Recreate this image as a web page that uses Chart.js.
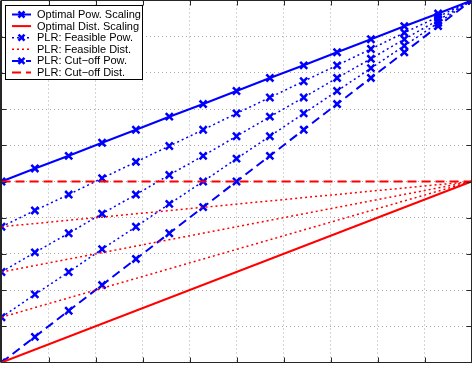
<!DOCTYPE html>
<html lang="en">
<head>
  <meta charset="UTF-8">
  <title>Power vs. distance scaling</title>
  <style>
    html, body { margin: 0; padding: 0; background: #fff; }
    #chartContainer { width: 474px; height: 366px; }
  </style>
</head>
<body>
  <div id="chartContainer">
    <canvas id="myChart" width="474" height="366"></canvas>
  </div>

  <script src="https://cdn.jsdelivr.net/npm/chart.js"></script>
  <script>
    // marker positions along the x axis (15 steps)
    var xSteps = [0, 0.71, 1.43, 2.14, 2.86, 3.57, 4.29, 5, 5.71, 6.43, 7.14, 7.86, 8.57, 9.29, 10];

    // blue series (with x markers)
    var optPow = [5, 5.36, 5.71, 6.07, 6.43, 6.79, 7.14, 7.5, 7.86, 8.21, 8.57, 8.93, 9.29, 9.64, 10];
    var cutPow = [0, 0.71, 1.43, 2.14, 2.86, 3.57, 4.29, 5, 5.71, 6.43, 7.14, 7.86, 8.57, 9.29, 10];
    var feasPowA = [3.75, 4.2, 4.64, 5.09, 5.54, 5.98, 6.43, 6.88, 7.32, 7.77, 8.21, 8.66, 9.11, 9.55, 10];
    var feasPowB = [2.5, 3.04, 3.57, 4.11, 4.64, 5.18, 5.71, 6.25, 6.79, 7.32, 7.86, 8.39, 8.93, 9.46, 10];
    var feasPowC = [1.25, 1.88, 2.5, 3.13, 3.75, 4.38, 5, 5.63, 6.25, 6.88, 7.5, 8.13, 8.75, 9.38, 10];

    // red series (straight lines, end points only)
    var xEnds = [0, 10];
    var optDist = [0, 5];
    var cutDist = [5, 5];
    var feasDistA = [3.75, 5];
    var feasDistB = [2.5, 5];
    var feasDistC = [1.25, 5];

    var legendLabels = [
      'Optimal Pow. Scaling',
      'Optimal Dist. Scaling',
      'PLR: Feasible Pow.',
      'PLR: Feasible Dist.',
      'PLR: Cut\u2212off Pow.',
      'PLR: Cut\u2212off Dist.'
    ];

    var BLUE = '#0000ff';
    var RED = '#ff0000';
    var DOT = [2, 3];
    var DASH = [9, 5];

    function pts(xs, ys) {
      var out = [];
      for (var i = 0; i < xs.length; i++) out.push({ x: xs[i], y: ys[i] });
      return out;
    }

    function blueSet(ys, dash, width) {
      return {
        data: pts(xSteps, ys),
        borderColor: BLUE,
        backgroundColor: BLUE,
        borderWidth: width,
        borderDash: dash,
        pointStyle: 'crossRot',
        pointRadius: 5,
        pointBorderWidth: 2.5,
        pointBorderColor: BLUE
      };
    }

    function redSet(ys, dash, width) {
      return {
        data: pts(xEnds, ys),
        borderColor: RED,
        borderWidth: width,
        borderDash: dash,
        pointRadius: 0
      };
    }

    // legend samples: color, dash, marker
    var legendStyles = [
      { color: BLUE, dash: [], width: 2, marker: true },
      { color: RED, dash: [], width: 2, marker: false },
      { color: BLUE, dash: DOT, width: 1.5, marker: true },
      { color: RED, dash: DOT, width: 1.5, marker: false },
      { color: BLUE, dash: DASH, width: 2, marker: true },
      { color: RED, dash: DASH, width: 2, marker: false }
    ];

    // frame, inward ticks and boxed legend, drawn after the data
    var matlabLook = {
      id: 'matlabLook',
      afterDraw: function (chart) {
        var ctx = chart.ctx;
        var a = chart.chartArea;
        var xs = chart.scales.x, ys = chart.scales.y;
        ctx.save();
        ctx.setLineDash([]);
        ctx.strokeStyle = '#262626';
        ctx.lineWidth = 1;
        ctx.strokeRect(a.left, a.top, a.right - a.left, a.bottom - a.top);
        ctx.lineWidth = 2;
        ctx.beginPath();
        ctx.moveTo(a.left - 0.5, a.top); ctx.lineTo(a.left - 0.5, a.bottom);
        ctx.stroke();
        ctx.lineWidth = 1;
        ctx.beginPath();
        for (var v = 1; v < 10; v++) {
          var px = Math.round(xs.getPixelForValue(v)) + 0.5;
          ctx.moveTo(px, a.bottom); ctx.lineTo(px, a.bottom - 5);
          ctx.moveTo(px, a.top); ctx.lineTo(px, a.top + 5);
          var py = Math.round(ys.getPixelForValue(v)) + 0.5;
          ctx.moveTo(a.left, py); ctx.lineTo(a.left + 5, py);
          ctx.moveTo(a.right, py); ctx.lineTo(a.right - 5, py);
        }
        ctx.stroke();

        // legend box
        ctx.fillStyle = '#fff';
        ctx.fillRect(6, 6, 136, 73);
        ctx.strokeStyle = '#000';
        ctx.strokeRect(5.5, 5.5, 137, 74);
        ctx.font = '11px "Liberation Sans", Arial, sans-serif';
        ctx.textBaseline = 'middle';
        for (var i = 0; i < legendLabels.length; i++) {
          var st = legendStyles[i];
          var y = 14.5 + i * 11.6;
          ctx.strokeStyle = st.color;
          ctx.lineWidth = st.width;
          ctx.setLineDash(st.dash);
          ctx.beginPath();
          ctx.moveTo(12, y); ctx.lineTo(31, y);
          ctx.stroke();
          ctx.setLineDash([]);
          if (st.marker) {
            ctx.lineWidth = 2.5;
            ctx.beginPath();
            ctx.moveTo(18.5, y - 3); ctx.lineTo(24.5, y + 3);
            ctx.moveTo(24.5, y - 3); ctx.lineTo(18.5, y + 3);
            ctx.stroke();
          }
          ctx.fillStyle = '#000';
          ctx.fillText(legendLabels[i], 37, y + 0.5);
        }
        ctx.restore();
      }
    };

    var chartConfig = {
      type: 'line',
      data: {
        datasets: [
          redSet(feasDistA, DOT, 1.5),
          redSet(feasDistB, DOT, 1.5),
          redSet(feasDistC, DOT, 1.5),
          redSet(optDist, [], 2),
          redSet(cutDist, DASH, 2),
          blueSet(feasPowA, DOT, 1.5),
          blueSet(feasPowB, DOT, 1.5),
          blueSet(feasPowC, DOT, 1.5),
          blueSet(cutPow, DASH, 2),
          blueSet(optPow, [], 2)
        ]
      },
      options: {
        responsive: false,
        animation: false,
        layout: { autoPadding: false, padding: { left: 1.5, right: 2.5, top: 0.5, bottom: 3.5 } },
        elements: { line: { tension: 0 } },
        plugins: { legend: { display: false }, tooltip: { enabled: false } },
        scales: {
          x: {
            type: 'linear', min: 0, max: 10,
            ticks: { display: false, stepSize: 1 },
            grid: { color: '#aaaaaa', lineWidth: 1, drawTicks: false },
            border: { display: false, dash: [1, 3] }
          },
          y: {
            type: 'linear', min: 0, max: 10,
            ticks: { display: false, stepSize: 1 },
            grid: { color: '#aaaaaa', lineWidth: 1, drawTicks: false },
            border: { display: false, dash: [1, 3] }
          }
        }
      },
      plugins: [matlabLook]
    };

    var ctx = document.getElementById('myChart').getContext('2d');
    var myChart = new Chart(ctx, chartConfig);
  </script>
</body>
</html>
